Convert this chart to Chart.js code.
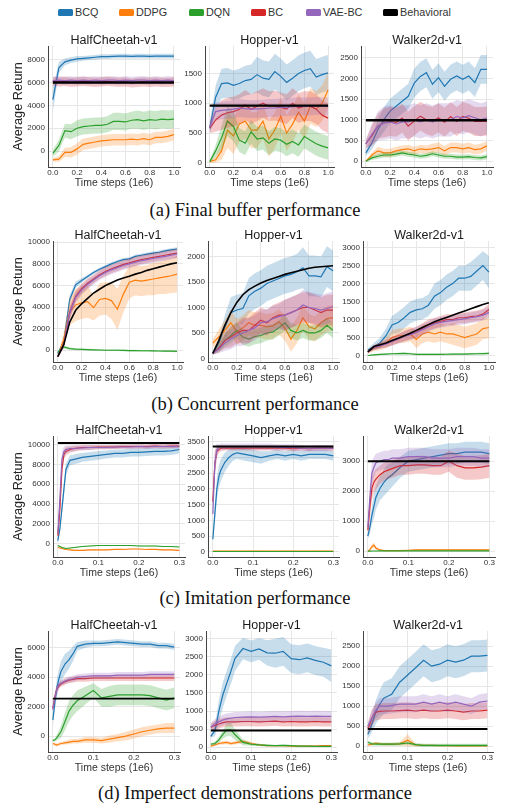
<!DOCTYPE html>
<html><head><meta charset="utf-8">
<script src="https://cdn.jsdelivr.net/npm/chart.js@4.4.0/dist/chart.umd.min.js"></script>
<style>
html,body{margin:0;padding:0;background:#fff;}
body{width:510px;height:807px;position:relative;overflow:hidden;font-family:"Liberation Sans",Arial,sans-serif;}
.cap{position:absolute;left:0;width:510px;text-align:center;font-family:"Liberation Serif","Times New Roman",serif;font-size:18.5px;color:#111;line-height:20px;white-space:nowrap;}
.lg{position:absolute;top:5px;height:15px;font-size:10.8px;color:#333;line-height:15px;white-space:nowrap;}
.sw{position:absolute;width:15px;height:7px;border-radius:1.5px;top:9px;}
</style></head><body>
<script>
// ---------------- DATA ----------------
const SERIES = ['BCQ','DDPG','DQN','BC','VAE-BC','Behavioral'];
const ENVS = ['HalfCheetah-v1','Hopper-v1','Walker2d-v1'];
const CAPTIONS = ['(a) Final buffer performance','(b) Concurrent performance','(c) Imitation performance','(d) Imperfect demonstrations performance'];
const X_LONG = [0,0.05,0.1,0.15,0.2,0.25,0.3,0.35,0.4,0.45,0.5,0.55,0.6,0.65,0.7,0.75,0.8,0.85,0.9,0.95,1.0];
const X_SHORT = [0,0.005,0.01,0.015,0.02,0.03,0.04,0.05,0.06,0.08,0.1,0.12,0.14,0.16,0.18,0.2,0.22,0.24,0.26,0.28,0.3];
const XT_LONG = [0,0.2,0.4,0.6,0.8,1.0];
const XT_SHORT = [0,0.1,0.2,0.3];

// (a) Final buffer
const YT_A1 = [0,2000,4000,6000,8000];
const A1_BCQ = [4500,7300,7800,7950,8050, 8100,8150,8200,8250,8250, 8280,8300,8300,8280,8300, 8300,8280,8300,8300,8300, 8300];
const A1_BCQ_SD = [1000,500,300,250,250, 200,200,200,200,200, 200,200,200,200,200, 200,200,200,200,200, 200];
const A1_DDPG = [-750,-700,-100,-100,200, 600,700,800,900,950, 1000,1000,1000,1050,1000, 1100,1000,1200,1200,1300, 1450];
const A1_DDPG_SD = [150,250,400,450,500, 500,500,500,500,500, 500,500,500,500,500, 500,500,500,500,500, 500];
const A1_DQN = [-200,500,1800,1700,2000, 2150,2200,2250,2250,2350, 2600,2600,2550,2700,2750, 2650,2750,2700,2800,2750, 2800];
const A1_DQN_SD = [300,500,600,650,700, 700,700,700,700,700, 750,750,750,750,800, 800,800,800,800,800, 800];
const A1_BC = [6100,6050,6100,6000,6050, 6100,6050,6000,6050,6100, 6050,6000,6050,5950,6000, 6050,6000,6050,6000,6000, 6050];
const A1_BC_SD = [400,400,400,400,400, 400,400,400,400,400, 400,400,400,400,400, 400,400,400,400,400, 400];
const A1_VAE = [6150,6200,6150,6200,6150, 6200,6150,6200,6150,6200, 6200,6150,6200,6150,6200, 6200,6150,6200,6150,6200, 6150];
const A1_VAE_SD = [350,350,350,350,350, 350,350,350,350,350, 350,350,350,350,350, 350,350,350,350,350, 350];
const A1_BEH = 6000;

const YT_A2 = [0,500,1000,1500];
const A2_BCQ = [580,1100,1330,1340,1300, 1330,1380,1400,1480,1420, 1400,1530,1450,1350,1420, 1500,1550,1580,1440,1480, 1510];
const A2_BCQ_SD = [100,200,250,250,250, 250,250,250,300,300, 300,300,300,300,300, 300,300,300,300,300, 300];
const A2_DDPG = [20,50,200,550,450, 650,700,550,550,700, 400,550,780,500,650, 850,700,950,900,1000, 1220];
const A2_DDPG_SD = [20,50,150,300,300, 300,300,300,300,300, 300,300,300,300,300, 300,300,300,300,300, 300];
const A2_DQN = [20,200,420,700,610, 380,330,520,400,420, 330,400,380,310,360, 300,440,380,320,280, 250];
const A2_DQN_SD = [20,100,200,250,250, 200,200,200,200,200, 200,200,200,200,200, 200,200,200,200,200, 200];
const A2_BC = [580,720,800,840,860, 900,970,900,950,1000, 950,960,930,900,1000, 920,950,950,900,800, 750];
const A2_BC_SD = [80,200,250,250,250, 250,250,250,250,250, 250,250,250,250,250, 250,250,250,250,250, 250];
const A2_VAE = [600,860,880,890,900, 920,910,900,905,910, 920,920,930,935,940, 950,945,950,955,950, 944];
const A2_VAE_SD = [80,150,150,150,150, 150,150,150,150,150, 150,150,150,150,150, 150,150,150,150,150, 150];
const A2_BEH = 960;

const YT_A3 = [0,500,1000,1500,2000,2500];
const A3_BCQ = [200,440,770,1010,1210, 1330,1450,1570,1890,2050, 2140,1860,2020,1810,1980, 2060,1980,2060,1900,2220, 2220];
const A3_BCQ_SD = [80,150,250,300,300, 300,300,300,350,350, 350,350,350,350,350, 350,350,350,350,350, 350];
const A3_DDPG = [0,150,250,200,200, 250,280,300,250,300, 280,300,330,250,330, 330,300,330,280,300, 370];
const A3_DDPG_SD = [10,60,100,100,100, 100,100,100,100,100, 100,120,120,120,120, 120,120,120,120,120, 120];
const A3_DQN = [0,80,120,150,150, 170,200,170,150,120, 140,180,150,120,120, 100,100,110,90,80, 110];
const A3_DQN_SD = [10,50,60,60,60, 60,60,60,60,60, 60,60,60,60,60, 60,60,60,60,60, 60];
const A3_BC = [420,620,850,930,960, 940,1040,850,970,1090, 1000,960,1050,940,1080, 960,1080,1040,960,960, 970];
const A3_BC_SD = [100,250,300,350,350, 350,350,350,350,350, 350,350,350,350,350, 350,350,350,350,350, 350];
const A3_VAE = [420,650,850,920,950, 900,950,950,1000,950, 1000,950,1000,1000,1000, 1080,1050,1100,1050,1000, 1050];
const A3_VAE_SD = [100,250,350,400,400, 400,400,400,400,400, 400,400,400,400,400, 400,400,400,400,400, 400];
const A3_BEH = 990;

// (b) Concurrent
const YT_B1 = [0,2000,4000,6000,8000,10000];
const B1_BCQ = [-300,800,4700,6060,6460, 6830,7200,7500,7750,8000, 8220,8400,8460,8700,8800, 8900,9000,9080,9200,9300, 9380];
const B1_BCQ_SD = [100,300,400,300,200, 150,150,150,150,150, 150,150,150,150,150, 150,150,150,150,150, 150];
const B1_DDPG = [-600,1000,3500,4200,4400, 4500,3950,4700,4800,4600, 3800,5200,6300,6500,6400, 6500,6600,6700,6800,6900, 7050];
const B1_DDPG_SD = [100,600,1200,1500,1500, 1500,1200,1500,1500,1700, 1900,1700,1500,1400,1400, 1400,1500,1500,1600,1600, 1700];
const B1_DQN = [-200,300,150,100,80, 50,30,20,0,0, 0,-20,-30,-40,-50, -50,-60,-70,-80,-90, -100];
const B1_DQN_SD = [100,150,100,80,80, 80,80,80,80,80, 80,80,80,80,80, 80,80,80,80,80, 80];
const B1_BC = [-600,500,3500,5000,5700, 6200,6600,7000,7300,7550, 7750,7950,8100,8250,8400, 8500,8600,8700,8800,8900, 9000];
const B1_BC_SD = [100,300,600,500,450, 450,400,400,400,400, 400,400,400,400,400, 400,400,400,400,400, 400];
const B1_VAE = [-600,500,3400,4900,5600, 6100,6500,6900,7200,7450, 7650,7850,8000,8150,8300, 8400,8500,8600,8700,8800, 8920];
const B1_VAE_SD = [100,300,600,500,450, 450,400,400,400,400, 400,400,400,400,400, 400,400,400,400,400, 400];
const B1_BEH = [-600,500,2600,3700,4300, 4800,5300,5650,6000,6250, 6500,6700,6850,7050,7200, 7400,7550,7700,7850,8000, 8100];

const YT_B2 = [0,500,1000,1500,2000];
const B2_BCQ = [100,300,600,900,950, 980,1230,1320,1380,1470, 1520,1570,1620,1650,1700, 1780,1620,1620,1600,1800, 1720];
const B2_BCQ_SD = [30,100,250,300,300, 300,350,350,350,350, 350,350,350,350,350, 400,400,400,400,400, 400];
const B2_DDPG = [300,420,550,700,520, 600,700,650,650,620, 640,720,600,380,550, 800,620,580,700,780, 800];
const B2_DDPG_SD = [80,150,200,250,250, 250,250,250,250,250, 250,250,250,250,250, 250,250,250,250,250, 250];
const B2_DQN = [100,200,350,450,550, 420,380,430,450,500, 520,600,700,550,500, 550,500,500,550,650, 550];
const B2_DQN_SD = [30,80,120,150,150, 150,150,150,150,150, 150,150,150,150,150, 150,150,150,150,150, 150];
const B2_BC = [100,200,350,420,500, 550,550,650,750,700, 800,850,850,900,950, 1000,1000,950,900,950, 950];
const B2_BC_SD = [30,80,150,200,200, 250,250,250,250,250, 250,250,300,300,300, 300,300,300,300,300, 300];
const B2_VAE = [100,180,300,380,450, 500,550,600,700,720, 780,820,850,900,950, 1050,1000,980,950,980, 1020];
const B2_VAE_SD = [30,80,150,200,200, 250,250,250,250,250, 250,250,300,300,300, 300,300,300,300,300, 300];
const B2_BEH = [100,350,650,900,1100, 1250,1350,1420,1480,1530, 1570,1610,1650,1680,1710, 1740,1770,1790,1800,1810, 1820];

const YT_B3 = [0,500,1000,1500,2000,2500,3000];
const B3_BCQ = [150,250,350,550,850, 920,1050,1200,1270,1300, 1400,1650,1750,1900,2000, 2150,2150,2200,2350,2500, 2320];
const B3_BCQ_SD = [50,100,150,200,250, 300,300,300,300,300, 300,350,350,350,350, 350,350,400,400,400, 450];
const B3_DDPG = [100,200,250,350,500, 550,550,600,450,600, 650,600,650,600,600, 550,500,550,600,750, 780];
const B3_DDPG_SD = [50,80,100,150,200, 200,200,200,250,250, 250,250,250,250,300, 300,300,300,300,300, 300];
const B3_DQN = [0,20,30,40,50, 55,60,50,30,30, 30,30,30,35,40, 40,40,45,50,55, 60];
const B3_DQN_SD = [10,20,20,20,20, 25,25,25,25,25, 25,25,25,25,25, 25,25,25,25,25, 25];
const B3_BC = [100,230,280,330,400, 470,540,600,650,750, 850,900,950,1000,1000, 1050,1050,1080,1100,1150, 1280];
const B3_BC_SD = [30,60,80,100,120, 130,140,150,150,150, 150,150,150,150,150, 150,150,150,150,150, 150];
const B3_VAE = [100,220,270,320,390, 460,530,580,640,720, 800,880,920,950,980, 1000,1020,1050,1080,1120, 1200];
const B3_VAE_SD = [30,60,80,100,120, 130,140,150,150,150, 150,150,150,150,150, 150,150,150,150,150, 150];
const B3_BEH = [100,250,300,350,420, 480,550,620,700,780, 860,940,1000,1060,1120, 1180,1240,1300,1360,1420, 1470];

// (c) Imitation
const YT_C1 = [0,2000,4000,6000,8000,10000];
const C1_BCQ = [300,1500,3500,5500,7500, 8400,8500,8600,8700,8800, 8900,9000,9100,9100,9200, 9200,9250,9300,9300,9350, 9500];
const C1_BCQ_SD = [100,300,600,700,600, 500,500,500,450,450, 450,400,400,400,400, 400,400,400,400,400, 400];
const C1_DDPG = [-400,-450,-500,-550,-600, -650,-700,-700,-700,-650, -650,-650,-600,-600,-550, -550,-600,-600,-650,-650, -700];
const C1_DDPG_SD = [60,60,60,60,60, 60,60,60,60,60, 60,60,60,60,60, 60,60,60,60,60, 60];
const C1_DQN = [-200,-300,-400,-450,-500, -450,-400,-350,-300,-250, -200,-200,-200,-200,-200, -250,-250,-250,-300,-300, -350];
const C1_DQN_SD = [60,60,60,60,60, 60,60,60,60,60, 60,60,60,60,60, 60,60,60,60,60, 60];
const C1_BC = [800,3500,7500,9000,9300, 9500,9600,9650,9700,9700, 9750,9750,9750,9800,9800, 9800,9800,9850,9800,9850, 9850];
const C1_BC_SD = [300,800,800,500,400, 300,300,250,250,250, 200,200,200,200,200, 200,200,200,200,200, 200];
const C1_VAE = [1000,4500,8500,9300,9500, 9600,9600,9650,9650,9700, 9700,9700,9750,9750,9750, 9800,9750,9800,9800,9800, 9800];
const C1_VAE_SD = [300,800,800,500,400, 300,300,250,250,250, 200,200,200,200,200, 200,200,200,200,200, 200];
const C1_BEH = 10150;

const YT_C2 = [0,500,1000,1500,2000,2500,3000,3500];
const C2_BCQ = [400,1200,2000,2400,2600, 2850,3000,3100,3150,3100, 3050,3000,3050,3100,3050, 3100,3050,3100,3100,3100, 3050];
const C2_BCQ_SD = [100,300,350,350,350, 300,250,200,200,200, 200,200,150,150,150, 150,150,150,150,150, 150];
const C2_DDPG = [20,20,25,25,20, 20,25,25,20,20, 25,25,20,20,25, 25,20,20,25,25, 20];
const C2_DDPG_SD = [15,15,15,15,15, 15,15,15,15,15, 15,15,15,15,15, 15,15,15,15,15, 15];
const C2_DQN = [10,10,10,10,10, 10,10,10,10,10, 10,10,10,10,10, 10,10,10,10,10, 10];
const C2_DQN_SD = [10,10,10,10,10, 10,10,10,10,10, 10,10,10,10,10, 10,10,10,10,10, 10];
const C2_BC = [1600,2800,3200,3250,3300, 3300,3300,3300,3300,3300, 3300,3300,3300,3300,3300, 3280,3300,3280,3300,3300, 3300];
const C2_BC_SD = [300,400,200,100,100, 80,80,80,80,80, 80,80,80,80,80, 80,80,80,80,80, 80];
const C2_VAE = [1200,2800,3250,3320,3350, 3350,3350,3350,3350,3350, 3350,3350,3350,3320,3320, 3320,3300,3300,3300,3300, 3300];
const C2_VAE_SD = [300,400,200,100,100, 100,100,100,100,100, 100,100,100,100,100, 100,100,100,100,100, 100];
const C2_BEH = 3350;

const YT_C3 = [0,1000,2000,3000];
const C3_BCQ = [500,800,1200,1500,1800, 2100,2300,2450,2550,2800, 3000,3050,3100,3150,3200, 3250,3250,3300,3300,3300, 3250];
const C3_BCQ_SD = [100,200,300,400,400, 400,450,450,400,350, 350,350,350,350,350, 350,350,350,350,350, 350];
const C3_DDPG = [0,50,150,200,100, 40,20,20,20,20, 30,40,40,40,40, 40,40,40,40,40, 40];
const C3_DDPG_SD = [10,40,80,80,50, 20,20,20,20,20, 20,30,30,30,30, 30,30,30,30,30, 30];
const C3_DQN = [0,0,5,5,5, 10,10,10,10,10, 10,10,10,10,10, 10,10,10,10,10, 10];
const C3_DQN_SD = [10,10,10,10,10, 10,10,10,10,10, 10,10,10,10,10, 10,10,10,10,10, 10];
const C3_BC = [700,1500,2100,2300,2400, 2550,2650,2700,2750,2850, 2850,2880,2880,2850,2850, 3000,2850,2780,2780,2800, 2850];
const C3_BC_SD = [200,400,400,350,350, 300,300,300,300,300, 300,300,300,300,300, 350,400,400,400,400, 400];
const C3_VAE = [800,1800,2600,2800,2950, 3000,3050,3050,3100,3100, 3150,3150,3150,3100,3100, 3100,3150,3150,3150,3100, 3100];
const C3_VAE_SD = [200,400,400,350,300, 300,300,300,300,300, 300,300,300,300,300, 300,300,300,300,300, 300];
const C3_BEH = 3000;

// (d) Imperfect demonstrations
const YT_D1 = [0,2000,4000,6000];
const D1_BCQ = [1100,2300,3300,3900,4400, 4900,5200,5600,6100,6250, 6300,6300,6350,6400,6350, 6300,6250,6250,6150,6150, 6050];
const D1_BCQ_SD = [400,500,600,650,700, 700,600,500,300,250, 200,200,200,200,200, 200,200,200,200,200, 200];
const D1_DDPG = [-500,-550,-600,-550,-500, -450,-400,-350,-350,-250, -250,-300,-200,-100,0, 150,300,400,500,550, 550];
const D1_DDPG_SD = [100,100,100,100,100, 120,150,150,150,200, 200,200,250,250,300, 300,300,300,300,350, 350];
const D1_DQN = [-300,-250,-100,100,300, 1000,1700,2100,2400,2750, 3100,2600,2700,2800,2800, 2800,2800,2750,2600,2450, 2600];
const D1_DQN_SD = [50,100,200,300,400, 600,700,700,700,600, 500,600,700,700,700, 700,700,700,700,700, 700];
const D1_BC = [1900,2700,3200,3400,3550, 3700,3800,3850,3900,3900, 3950,3950,3950,3950,3950, 3950,3950,3950,3950,3950, 3950];
const D1_BC_SD = [200,250,250,200,200, 200,200,200,200,200, 200,200,200,200,200, 200,200,200,200,200, 200];
const D1_VAE = [1800,2600,3200,3500,3600, 3750,3850,3900,4000,4050, 4100,4100,4100,4150,4150, 4150,4150,4200,4200,4200, 4200];
const D1_VAE_SD = [200,250,250,200,200, 200,200,200,200,200, 200,200,200,200,200, 200,200,200,200,200, 200];
const D1_BEH = 2550;

const YT_D2 = [0,500,1000,1500,2000,2500,3000];
const D2_BCQ = [300,380,450,700,1000, 1450,1780,2100,2450,2730, 2650,2720,2610,2600,2650, 2450,2420,2470,2400,2350, 2250];
const D2_BCQ_SD = [50,100,150,250,300, 350,350,350,350,300, 300,300,350,400,400, 400,400,400,400,400, 450];
const D2_DDPG = [30,40,60,80,100, 120,130,100,120,160, 100,60,40,40,40, 30,30,30,30,40, 40];
const D2_DDPG_SD = [20,20,30,30,40, 50,50,50,50,50, 40,30,20,20,20, 20,20,20,20,20, 20];
const D2_DQN = [80,90,100,150,200, 350,480,480,350,130, 80,60,50,40,50, 40,30,30,20,20, 20];
const D2_DQN_SD = [30,30,40,60,80, 120,180,180,150,80, 40,30,30,20,20, 20,20,20,20,20, 20];
const D2_BC = [550,580,600,620,640, 680,700,700,700,710, 710,700,710,720,700, 710,700,700,710,700, 700];
const D2_BC_SD = [100,120,120,130,130, 130,130,130,130,130, 130,130,130,130,130, 130,130,130,130,130, 130];
const D2_VAE = [550,600,650,680,700, 750,780,800,820,830, 840,830,840,850,840, 850,860,850,860,850, 850];
const D2_VAE_SD = [100,120,120,130,140, 150,150,150,150,150, 150,150,150,150,150, 150,150,150,150,150, 150];
const D2_BEH = 460;

const YT_D3 = [0,500,1000,1500,2000,2500];
const D3_BCQ = [300,400,550,700,850, 1050,1200,1250,1300,1600, 1780,1960,2150,2000,2050, 2150,2100,2150,2250,2250, 2270];
const D3_BCQ_SD = [100,150,200,250,300, 350,400,400,400,400, 400,400,400,400,400, 400,400,400,400,400, 400];
const D3_DDPG = [30,40,50,60,80, 60,50,50,50,60, 150,30,20,20,15, 15,10,10,10,10, 10];
const D3_DDPG_SD = [20,20,30,30,30, 30,30,30,30,40, 150,30,20,20,20, 20,20,20,20,20, 20];
const D3_DQN = [100,80,60,55,50, 50,50,50,50,60, 80,40,20,20,20, 20,20,20,20,20, 20];
const D3_DQN_SD = [40,40,40,40,40, 40,40,40,40,40, 40,40,40,40,40, 40,40,40,40,40, 40];
const D3_BC = [450,550,700,780,850, 870,880,880,880,890, 900,880,900,880,880, 900,880,850,880,880, 900];
const D3_BC_SD = [100,200,200,200,200, 200,200,200,200,200, 200,200,200,200,200, 200,200,200,200,200, 200];
const D3_VAE = [500,600,700,800,900, 1000,1000,1000,1020,1050, 1050,1050,1100,1050,1100, 1050,1100,1050,1000,1100, 1130];
const D3_VAE_SD = [100,150,200,200,200, 200,200,200,200,200, 200,200,200,200,200, 200,200,200,200,200, 200];
const D3_BEH = 430;

// ---------------- STYLE / LAYOUT ----------------
const COLORS = {'BCQ':'#1f77b4','DDPG':'#ff7f0e','DQN':'#2ca02c','BC':'#d62728','VAE-BC':'#9467bd','Behavioral':'#000000'};
const FONT = '"Liberation Sans", Arial, Helvetica, sans-serif';
const ROWS = [
  {T:46, B:167, cols:[[48,180],[205,334],[361,493]], behW:2.4, xs:X_LONG, xt:XT_LONG, xlim:[-0.04,1.05], capY:210},
  {T:241, B:362, cols:[[53,183],[208,339],[363,495]], behW:1.6, xs:X_LONG, xt:XT_LONG, xlim:[-0.04,1.05], capY:404},
  {T:436, B:557, cols:[[53,185],[208,339],[363,495]], behW:2.0, xs:X_SHORT, xt:XT_SHORT, xlim:[-0.012,0.314], capY:598},
  {T:631, B:752, cols:[[48,180],[206,337],[363,493]], behW:1.8, xs:X_SHORT, xt:XT_SHORT, xlim:[-0.012,0.314], capY:793},
];
const PANELS = [
  {row:0,col:0,ylim:[-1380,9180],yt:YT_A1,s:[[A1_BCQ,A1_BCQ_SD],[A1_DDPG,A1_DDPG_SD],[A1_DQN,A1_DQN_SD],[A1_BC,A1_BC_SD],[A1_VAE,A1_VAE_SD]],beh:A1_BEH},
  {row:0,col:1,ylim:[-70,1960],yt:YT_A2,s:[[A2_BCQ,A2_BCQ_SD],[A2_DDPG,A2_DDPG_SD],[A2_DQN,A2_DQN_SD],[A2_BC,A2_BC_SD],[A2_VAE,A2_VAE_SD]],beh:A2_BEH},
  {row:0,col:2,ylim:[-140,2785],yt:YT_A3,s:[[A3_BCQ,A3_BCQ_SD],[A3_DDPG,A3_DDPG_SD],[A3_DQN,A3_DQN_SD],[A3_BC,A3_BC_SD],[A3_VAE,A3_VAE_SD]],beh:A3_BEH},
  {row:1,col:0,ylim:[-1090,10120],yt:YT_B1,s:[[B1_BCQ,B1_BCQ_SD],[B1_DDPG,B1_DDPG_SD],[B1_DQN,B1_DQN_SD],[B1_BC,B1_BC_SD],[B1_VAE,B1_VAE_SD]],beh:B1_BEH},
  {row:1,col:1,ylim:[-70,2305],yt:YT_B2,s:[[B2_BCQ,B2_BCQ_SD],[B2_DDPG,B2_DDPG_SD],[B2_DQN,B2_DQN_SD],[B2_BC,B2_BC_SD],[B2_VAE,B2_VAE_SD]],beh:B2_BEH},
  {row:1,col:2,ylim:[-180,3185],yt:YT_B3,s:[[B3_BCQ,B3_BCQ_SD],[B3_DDPG,B3_DDPG_SD],[B3_DQN,B3_DQN_SD],[B3_BC,B3_BC_SD],[B3_VAE,B3_VAE_SD]],beh:B3_BEH},
  {row:2,col:0,ylim:[-1360,10860],yt:YT_C1,s:[[C1_BCQ,C1_BCQ_SD],[C1_DDPG,C1_DDPG_SD],[C1_DQN,C1_DQN_SD],[C1_BC,C1_BC_SD],[C1_VAE,C1_VAE_SD]],beh:C1_BEH},
  {row:2,col:1,ylim:[-165,3685],yt:YT_C2,s:[[C2_BCQ,C2_BCQ_SD],[C2_DDPG,C2_DDPG_SD],[C2_DQN,C2_DQN_SD],[C2_BC,C2_BC_SD],[C2_VAE,C2_VAE_SD]],beh:C2_BEH},
  {row:2,col:2,ylim:[-195,3840],yt:YT_C3,s:[[C3_BCQ,C3_BCQ_SD],[C3_DDPG,C3_DDPG_SD],[C3_DQN,C3_DQN_SD],[C3_BC,C3_BC_SD],[C3_VAE,C3_VAE_SD]],beh:C3_BEH},
  {row:3,col:0,ylim:[-1075,7140],yt:YT_D1,s:[[D1_BCQ,D1_BCQ_SD],[D1_DDPG,D1_DDPG_SD],[D1_DQN,D1_DQN_SD],[D1_BC,D1_BC_SD],[D1_VAE,D1_VAE_SD]],beh:D1_BEH},
  {row:3,col:1,ylim:[-135,3215],yt:YT_D2,s:[[D2_BCQ,D2_BCQ_SD],[D2_DDPG,D2_DDPG_SD],[D2_DQN,D2_DQN_SD],[D2_BC,D2_BC_SD],[D2_VAE,D2_VAE_SD]],beh:D2_BEH},
  {row:3,col:2,ylim:[-145,2880],yt:YT_D3,s:[[D3_BCQ,D3_BCQ_SD],[D3_DDPG,D3_DDPG_SD],[D3_DQN,D3_DQN_SD],[D3_BC,D3_BC_SD],[D3_VAE,D3_VAE_SD]],beh:D3_BEH},
];

function rgba(hex, a) {
  const n = parseInt(hex.slice(1), 16);
  return 'rgba(' + ((n >> 16) & 255) + ',' + ((n >> 8) & 255) + ',' + (n & 255) + ',' + a + ')';
}

// legend (HTML)
const LEG_X = [58, 119, 189, 251, 306, 383];
SERIES.forEach((name, i) => {
  const sw = document.createElement('div'); sw.className = 'sw';
  sw.style.left = LEG_X[i] + 'px'; sw.style.background = COLORS[name];
  document.body.appendChild(sw);
  const t = document.createElement('div'); t.className = 'lg';
  t.style.left = (LEG_X[i] + 17) + 'px'; t.textContent = name;
  document.body.appendChild(t);
});

// captions
ROWS.forEach((r, i) => {
  const c = document.createElement('div'); c.className = 'cap';
  c.style.top = (r.capY - 10) + 'px'; c.textContent = CAPTIONS[i];
  document.body.appendChild(c);
});

function buildPanel(p) {
  const row = ROWS[p.row];
  const [L, R] = row.cols[p.col];
  const padL = p.col === 0 ? L : 40, padT = 15, padB = 24, padR = 8;
  const W = R - L + padL + padR, H = row.B - row.T + padT + padB;
  const div = document.createElement('div');
  div.style.cssText = 'position:absolute;left:' + (L - padL) + 'px;top:' + (row.T - padT) + 'px;width:' + W + 'px;height:' + H + 'px;';
  const cv = document.createElement('canvas');
  cv.width = W; cv.height = H; cv.style.width = W + 'px'; cv.style.height = H + 'px';
  div.appendChild(cv); document.body.appendChild(div);

  const xs = row.xs;
  const datasets = [];
  let ord = 1000;
  p.s.forEach((pair, k) => {
    const name = SERIES[k], mean = pair[0], sd = pair[1], c = COLORS[name];
    datasets.push({label: name + ' +sd', data: xs.map((x, i) => ({x: x, y: mean[i] + sd[i]})),
      borderWidth: 0, borderColor: 'rgba(0,0,0,0)', pointRadius: 0, fill: false, order: ord--});
    datasets.push({label: name + ' -sd', data: xs.map((x, i) => ({x: x, y: mean[i] - sd[i]})),
      borderWidth: 0, borderColor: 'rgba(0,0,0,0)', pointRadius: 0, fill: '-1', backgroundColor: rgba(c, 0.25), order: ord--});
    datasets.push({label: name, data: xs.map((x, i) => ({x: x, y: mean[i]})),
      borderColor: c, borderWidth: 1.2, pointRadius: 0, fill: false, order: ord--});
  });
  const behData = Array.isArray(p.beh) ? xs.map((x, i) => ({x: x, y: p.beh[i]}))
    : [{x: xs[0], y: p.beh}, {x: xs[xs.length - 1], y: p.beh}];
  datasets.push({label: 'Behavioral', data: behData, borderColor: '#000', borderWidth: row.behW, pointRadius: 0, fill: false, order: ord--});

  new Chart(cv, {
    type: 'line',
    data: {datasets: datasets},
    options: {
      responsive: false, animation: false, events: [],
      layout: {padding: {left: 0, right: padR, top: 0, bottom: 0}},
      plugins: {
        legend: {display: false}, tooltip: {enabled: false},
        title: {display: true, text: ENVS[p.col], fullSize: false, color: '#1a1a1a',
          font: {family: FONT, size: 12.5, weight: 'normal', lineHeight: 1.2}, padding: {top: 2, bottom: -2}}
      },
      scales: {
        x: {type: 'linear', min: row.xlim[0], max: row.xlim[1],
          afterBuildTicks: s => { s.ticks = row.xt.map(v => ({value: v})); },
          afterFit: s => { s.height = padB; },
          ticks: {autoSkip: false, maxRotation: 0, padding: 1, color: '#333', font: {family: FONT, size: 8},
            callback: v => Number(v).toFixed(1)},
          grid: {color: '#e6e6e6', lineWidth: 1, drawTicks: false},
          border: {display: true, color: '#444', width: 1},
          title: {display: true, text: 'Time steps (1e6)', color: '#333', font: {family: FONT, size: 10.5}, padding: {top: 0, bottom: 1.3}}
        },
        y: {type: 'linear', min: p.ylim[0], max: p.ylim[1],
          afterBuildTicks: s => { s.ticks = p.yt.map(v => ({value: v})); },
          afterFit: s => { s.width = padL; },
          ticks: {autoSkip: false, padding: 3, color: '#333', font: {family: FONT, size: 8},
            callback: v => String(v)},
          grid: {color: '#e6e6e6', lineWidth: 1, drawTicks: false},
          border: {display: true, color: '#444', width: 1},
          title: {display: p.col === 0, text: 'Average Return', color: '#222', font: {family: FONT, size: 12.7}, padding: {top: 10.8, bottom: 0}}
        }
      }
    }
  });
}
PANELS.forEach(buildPanel);
</script>
</body></html>
